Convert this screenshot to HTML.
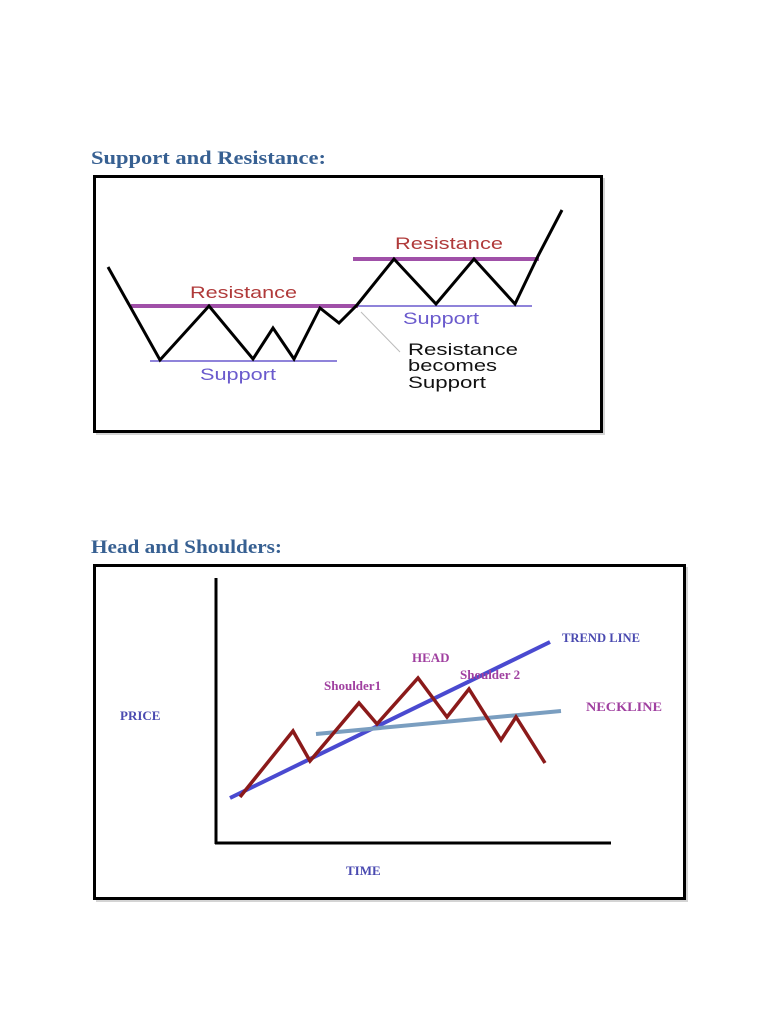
<!DOCTYPE html>
<html><head><meta charset="utf-8"><style>
html,body{margin:0;padding:0;background:#fff;}
svg{display:block}
</style></head><body>
<svg width="768" height="1024" viewBox="0 0 768 1024" xmlns="http://www.w3.org/2000/svg">
<text x="91" y="164" font-family="Liberation Serif, serif" font-weight="bold" font-size="19" fill="#376092" textLength="235" lengthAdjust="spacingAndGlyphs">Support and Resistance:</text>
<text x="91" y="553" font-family="Liberation Serif, serif" font-weight="bold" font-size="19" fill="#376092" textLength="191" lengthAdjust="spacingAndGlyphs">Head and Shoulders:</text>

<!-- Box 1 -->
<rect x="96" y="178" width="509" height="257" fill="#aaa" opacity="0.5"/>
<rect x="94.5" y="176.5" width="507" height="255" fill="#fff" stroke="#000" stroke-width="3"/>
<line x1="131" y1="306" x2="358" y2="306" stroke="#a050a8" stroke-width="4"/>
<line x1="353" y1="259" x2="539" y2="259" stroke="#a050a8" stroke-width="4"/>
<line x1="150" y1="361" x2="337" y2="361" stroke="#6a5acd" stroke-width="1.5"/>
<line x1="358" y1="306" x2="532" y2="306" stroke="#6a5acd" stroke-width="1.5"/>
<line x1="361" y1="312" x2="400" y2="352" stroke="#bbb" stroke-width="1"/>
<polyline points="108,267 160,360 209,306 253,359 273,328 294,359 320,308 339,323 357,305 394,259 436,304 474,259 515,304 538,256 562,210" fill="none" stroke="#000" stroke-width="3" stroke-linejoin="miter"/>
<g font-family="Liberation Sans, sans-serif" font-size="16.5">
<text x="190" y="298" fill="#b03a3a" textLength="107" lengthAdjust="spacingAndGlyphs">Resistance</text>
<text x="395" y="249" fill="#b03a3a" textLength="108" lengthAdjust="spacingAndGlyphs">Resistance</text>
<text x="200" y="380" fill="#6a5acd" textLength="76" lengthAdjust="spacingAndGlyphs">Support</text>
<text x="403" y="324" fill="#6a5acd" textLength="76" lengthAdjust="spacingAndGlyphs">Support</text>
<text x="408" y="355" fill="#111" textLength="110" lengthAdjust="spacingAndGlyphs">Resistance</text>
<text x="408" y="371" fill="#111" textLength="89" lengthAdjust="spacingAndGlyphs">becomes</text>
<text x="408" y="388" fill="#111" textLength="78" lengthAdjust="spacingAndGlyphs">Support</text>
</g>

<!-- Box 2 -->
<rect x="96" y="567" width="592" height="335" fill="#aaa" opacity="0.5"/>
<rect x="94.5" y="565.5" width="590" height="333" fill="#fff" stroke="#000" stroke-width="3"/>
<line x1="216" y1="578" x2="216" y2="844" stroke="#000" stroke-width="3"/>
<line x1="215" y1="843" x2="611" y2="843" stroke="#000" stroke-width="3"/>
<line x1="230" y1="798" x2="550" y2="642" stroke="#4a4ad0" stroke-width="4"/>
<line x1="316" y1="734" x2="561" y2="711" stroke="#7a9ec0" stroke-width="4"/>
<polyline points="240,797 293,731 310,761 359,703 377,724 418,678 447,717 469,689 501,740 516,717 545,763" fill="none" stroke="#8b1a1a" stroke-width="3.5"/>
<g font-family="Liberation Serif, serif" font-weight="bold" font-size="13">
<text x="562" y="642" fill="#4a4ab0" textLength="78" lengthAdjust="spacingAndGlyphs">TREND LINE</text>
<text x="412" y="662" fill="#a040a0">HEAD</text>
<text x="324" y="690" fill="#a040a0">Shoulder1</text>
<text x="460" y="679" fill="#a040a0">Shoulder 2</text>
<text x="586" y="711" fill="#a040a0" textLength="76" lengthAdjust="spacingAndGlyphs">NECKLINE</text>
<text x="120" y="720" fill="#4a4ab0">PRICE</text>
<text x="346" y="875" fill="#4a4ab0">TIME</text>
</g>
</svg>
</body></html>
